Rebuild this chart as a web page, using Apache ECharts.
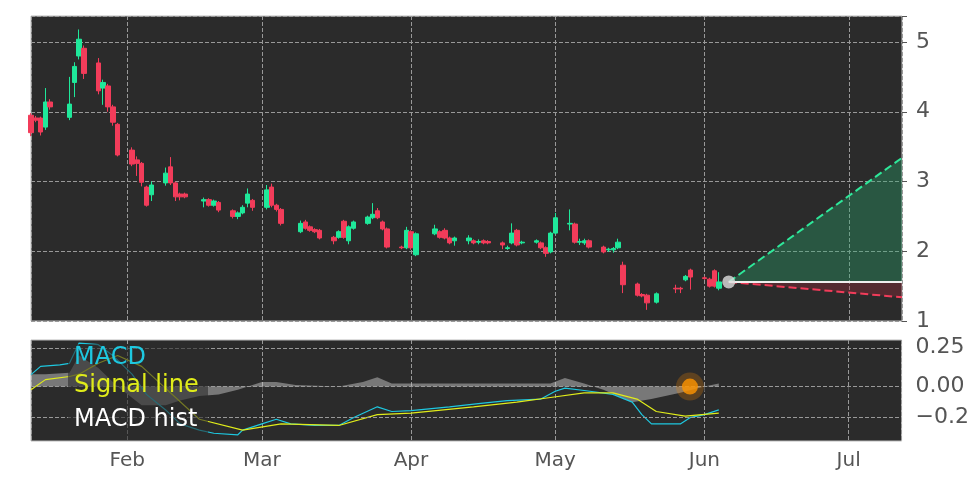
<!DOCTYPE html>
<html>
<head>
<meta charset="utf-8">
<script src="https://cdn.jsdelivr.net/npm/echarts@6/dist/echarts.min.js"></script>
<style>html,body{margin:0;background:#fff}#main{width:972px;height:486px}</style>
</head>
<body>
<div id="main"></div>
<script>
// candles: date, open, close, low, high
var candles = [
  ['2021-01-12',3.95,3.70,3.65,3.98],['2021-01-13',3.91,3.88,3.85,3.94],['2021-01-14',3.91,3.71,3.66,3.93],
  ['2021-01-15',3.78,4.14,3.74,4.34],['2021-01-16',4.14,4.07,4.03,4.18],['2021-01-20',3.92,4.11,3.88,4.50],
  ['2021-01-21',4.42,4.65,4.21,4.71],['2021-01-22',4.80,5.04,4.75,5.18],['2021-01-23',4.91,4.55,4.47,4.95],
  ['2021-01-26',4.70,4.30,4.25,4.77],['2021-01-27',4.34,4.42,4.10,4.46],['2021-01-28',4.37,4.07,4.00,4.40],
  ['2021-01-29',4.07,3.85,3.80,4.10],['2021-01-30',3.82,3.38,3.36,3.84],['2021-02-02',3.45,3.25,3.22,3.49],
  ['2021-02-03',3.31,3.26,3.08,3.36],['2021-02-04',3.26,2.99,2.93,3.28],['2021-02-05',2.92,2.66,2.64,2.94],
  ['2021-02-06',2.81,2.95,2.72,3.00],['2021-02-09',2.98,3.12,2.94,3.20],['2021-02-10',3.21,2.98,2.95,3.35],
  ['2021-02-11',2.98,2.78,2.72,3.00],['2021-02-12',2.82,2.78,2.73,2.84],['2021-02-13',2.82,2.78,2.76,2.84],
  ['2021-02-17',2.72,2.74,2.63,2.77],['2021-02-18',2.74,2.66,2.64,2.76],['2021-02-19',2.66,2.72,2.64,2.74],
  ['2021-02-20',2.70,2.59,2.56,2.72],['2021-02-23',2.58,2.50,2.47,2.60],['2021-02-24',2.50,2.55,2.46,2.57],
  ['2021-02-25',2.55,2.63,2.53,2.66],['2021-02-26',2.69,2.82,2.63,2.90],['2021-02-27',2.73,2.63,2.58,2.75],
  ['2021-03-02',2.63,2.88,2.60,2.95],['2021-03-03',2.92,2.66,2.63,2.97],['2021-03-04',2.66,2.60,2.57,2.68],
  ['2021-03-05',2.60,2.40,2.37,2.62],['2021-03-09',2.28,2.40,2.26,2.44],['2021-03-10',2.42,2.33,2.31,2.45],
  ['2021-03-11',2.35,2.30,2.28,2.37],['2021-03-12',2.31,2.28,2.26,2.33],['2021-03-13',2.30,2.19,2.17,2.32],
  ['2021-03-16',2.20,2.15,2.10,2.22],['2021-03-17',2.20,2.28,2.18,2.30],['2021-03-18',2.43,2.20,2.18,2.45],
  ['2021-03-19',2.15,2.35,2.10,2.37],['2021-03-20',2.33,2.42,2.31,2.44],['2021-03-23',2.40,2.49,2.38,2.51],
  ['2021-03-24',2.48,2.53,2.46,2.69],['2021-03-25',2.58,2.48,2.46,2.62],['2021-03-26',2.42,2.32,2.30,2.44],
  ['2021-03-27',2.32,2.06,2.04,2.34],['2021-03-30',2.06,2.05,2.03,2.08],['2021-03-31',2.05,2.30,2.03,2.35],
  ['2021-04-01',2.28,2.05,2.02,2.30],['2021-04-02',1.95,2.25,1.93,2.27],['2021-04-06',2.25,2.32,2.23,2.38],
  ['2021-04-07',2.28,2.20,2.18,2.30],['2021-04-08',2.30,2.19,2.17,2.33],['2021-04-09',2.19,2.12,2.10,2.21],
  ['2021-04-10',2.15,2.19,2.08,2.21],['2021-04-13',2.15,2.19,2.10,2.23],['2021-04-14',2.15,2.12,2.10,2.17],
  ['2021-04-15',2.13,2.14,2.10,2.17],['2021-04-16',2.15,2.12,2.10,2.17],['2021-04-17',2.14,2.12,2.10,2.16],
  ['2021-04-20',2.12,2.09,2.03,2.14],['2021-04-21',2.04,2.05,2.02,2.08],['2021-04-22',2.12,2.26,2.10,2.40],
  ['2021-04-23',2.30,2.09,2.07,2.32],['2021-04-24',2.12,2.13,2.10,2.15],['2021-04-27',2.13,2.15,2.11,2.17],
  ['2021-04-28',2.12,2.05,2.03,2.14],['2021-04-29',2.05,1.97,1.92,2.07],['2021-04-30',1.99,2.26,1.97,2.28],
  ['2021-05-01',2.26,2.48,2.24,2.55],['2021-05-04',2.39,2.40,2.30,2.60],['2021-05-05',2.39,2.13,2.11,2.41],
  ['2021-05-06',2.13,2.14,2.09,2.18],['2021-05-07',2.12,2.15,2.09,2.18],['2021-05-08',2.15,2.06,2.04,2.17],
  ['2021-05-11',2.06,1.99,1.97,2.08],['2021-05-12',2.02,2.03,1.99,2.05],['2021-05-13',2.02,2.04,1.98,2.06],
  ['2021-05-14',2.05,2.13,2.03,2.18],['2021-05-15',1.80,1.52,1.40,1.85],['2021-05-18',1.53,1.37,1.35,1.55],
  ['2021-05-19',1.38,1.36,1.34,1.40],['2021-05-20',1.37,1.26,1.16,1.39],['2021-05-22',1.27,1.39,1.25,1.41],
  ['2021-05-26',1.47,1.46,1.40,1.52],['2021-05-27',1.47,1.46,1.40,1.49],['2021-05-28',1.59,1.64,1.57,1.66],
  ['2021-05-29',1.73,1.63,1.45,1.75],['2021-06-01',1.62,1.61,1.59,1.64],['2021-06-02',1.60,1.50,1.48,1.62],
  ['2021-06-03',1.72,1.50,1.48,1.74],['2021-06-04',1.47,1.56,1.44,1.70]
];
var lastPoint = ['2021-06-06', 1.56];
var forecastEnd = '2021-07-12';
var forecastHigh = 3.34;
var forecastLow = 1.34;

var macd = [
  ['2021-01-12',0.077],['2021-01-14',0.13],['2021-01-18',0.14],['2021-01-20',0.15],['2021-01-22',0.28],
  ['2021-01-26',0.27],['2021-01-29',0.20],['2021-02-02',0.08],['2021-02-05',-0.05],['2021-02-09',-0.15],
  ['2021-02-12',-0.24],['2021-02-16',-0.28],['2021-02-19',-0.30],['2021-02-24',-0.31],['2021-02-25',-0.28],
  ['2021-03-01',-0.24],['2021-03-04',-0.21],['2021-03-07',-0.24],['2021-03-12',-0.25],['2021-03-17',-0.25],
  ['2021-03-20',-0.20],['2021-03-25',-0.13],['2021-03-28',-0.16],['2021-04-01',-0.155],['2021-04-09',-0.13],
  ['2021-04-15',-0.11],['2021-04-21',-0.09],['2021-04-28',-0.08],['2021-05-01',-0.03],['2021-05-03',-0.01],
  ['2021-05-07',-0.025],['2021-05-13',-0.05],['2021-05-17',-0.10],['2021-05-19',-0.18],['2021-05-21',-0.24],
  ['2021-05-27',-0.24],['2021-05-29',-0.20],['2021-06-01',-0.18],['2021-06-04',-0.15]
];
var signal = [
  ['2021-01-12',-0.02],['2021-01-15',0.045],['2021-01-20',0.065],['2021-01-22',0.08],['2021-01-26',0.15],
  ['2021-01-30',0.20],['2021-02-04',0.13],['2021-02-16',-0.21],['2021-02-25',-0.28],['2021-03-05',-0.24],
  ['2021-03-17',-0.25],['2021-03-25',-0.18],['2021-04-01',-0.17],['2021-04-14',-0.13],['2021-04-23',-0.10],
  ['2021-04-30',-0.07],['2021-05-07',-0.04],['2021-05-13',-0.04],['2021-05-18',-0.08],['2021-05-22',-0.16],
  ['2021-05-28',-0.19],['2021-06-04',-0.17]
];
var hist = [
  ['2021-01-12',0.08],['2021-01-15',0.08],['2021-01-20',0.09],['2021-01-22',0.20],['2021-01-26',0.12],
  ['2021-01-30',0.0],['2021-02-04',-0.12],['2021-02-09',-0.12],['2021-02-12',-0.09],['2021-02-16',-0.06],
  ['2021-02-20',-0.05],['2021-02-24',-0.02],['2021-03-01',0.03],['2021-03-04',0.03],['2021-03-08',0.01],
  ['2021-03-17',0.0],['2021-03-22',0.03],['2021-03-25',0.06],['2021-03-28',0.02],['2021-04-01',0.02],
  ['2021-04-15',0.02],['2021-04-30',0.02],['2021-05-03',0.055],['2021-05-07',0.02],['2021-05-11',-0.02],
  ['2021-05-17',-0.10],['2021-05-21',-0.08],['2021-05-27',-0.04],['2021-06-01',0.0],['2021-06-04',0.02]
];
var crossPoint = ['2021-05-29', 0.0];
var macdTicks = [0.25, 0, -0.2];
var macdTickLabels = ['0.25', '0.00', '\u22120.2'];

var chart = echarts.init(document.getElementById('main'));
var axisText = { color: '#555', fontSize: 22, fontFamily: 'DejaVu Sans' };
var dash = { color: '#999', type: 'dashed', width: 1 };
var monthLabel = function (v) {
  var d = new Date(v);
  return d.getDate() === 1 ? ['Jan','Feb','Mar','Apr','May','Jun','Jul'][d.getMonth()] : '';
};

chart.setOption({
  animation: false,
  backgroundColor: '#fff',
  grid: [
    { left: 31, right: 70, top: 16, height: 305, show: true, backgroundColor: '#2b2b2b', borderColor: '#bbb' },
    { left: 31, right: 70, top: 340, height: 101, show: true, backgroundColor: '#2b2b2b', borderColor: '#bbb' }
  ],
  xAxis: [
    { type: 'time', gridIndex: 0, min: '2021-01-12', max: forecastEnd,
      axisLabel: { show: false }, axisTick: { show: false }, axisLine: { show: false },
      splitLine: { show: true, lineStyle: dash } },
    { type: 'time', gridIndex: 1, min: '2021-01-12', max: forecastEnd,
      axisLabel: Object.assign({ formatter: monthLabel, margin: 10, hideOverlap: false }, axisText, { fontSize: 20 }),
      axisTick: { show: true, lineStyle: { color: '#555' } }, axisLine: { show: false },
      splitLine: { show: true, lineStyle: dash } }
  ],
  yAxis: [
    { type: 'value', gridIndex: 0, position: 'right', min: 1, max: 5.373, interval: 1,
      axisLabel: Object.assign({ margin: 14, formatter: function (v) { return Math.abs(v - Math.round(v)) < 1e-6 ? String(v) : ''; } }, axisText),
      axisTick: { show: true, lineStyle: { color: '#555' } }, axisLine: { show: false },
      splitLine: { show: true, lineStyle: dash } },
    { type: 'value', gridIndex: 1, position: 'right', min: -0.35, max: 0.30, interval: 0.05,
      axisLabel: Object.assign({ margin: 14, formatter: function (v) {
        for (var i = 0; i < macdTicks.length; i++) if (Math.abs(v - macdTicks[i]) < 1e-6) return macdTickLabels[i];
        return ''; } }, axisText),
      axisTick: { show: false }, axisLine: { show: false }, splitLine: { show: false } }
  ],
  graphic: [
    { type: 'rect', left: 68, top: 344, z: 100, shape: { width: 140, height: 96 },
      style: { fill: 'rgba(43,43,43,0.6)' } },
    { type: 'text', left: 74, top: 346, z: 101, style: { text: 'MACD', fill: '#1ec8e0', fontSize: 24, fontFamily: 'DejaVu Sans' } },
    { type: 'text', left: 74, top: 374, z: 101, style: { text: 'Signal line', fill: '#e0ec1a', fontSize: 24, fontFamily: 'DejaVu Sans' } },
    { type: 'text', left: 74, top: 408, z: 101, style: { text: 'MACD hist', fill: '#fff', fontSize: 24, fontFamily: 'DejaVu Sans' } }
  ],
  series: [
    { type: 'candlestick', xAxisIndex: 0, yAxisIndex: 0, barWidth: 5,
      data: candles.map(function (c) { return [c[0], c[1], c[2], c[3], c[4]]; }),
      itemStyle: { color: '#1fe89a', color0: '#f23c5a', borderColor: '#1fe89a', borderColor0: '#f23c5a' } },
    { type: 'line', xAxisIndex: 0, yAxisIndex: 0, symbol: 'none',
      data: [lastPoint, [forecastEnd, forecastHigh]],
      lineStyle: { color: '#2ee89a', type: 'dashed', width: 2 },
      areaStyle: { origin: lastPoint[1], color: 'rgba(40,170,110,0.5)' } },
    { type: 'line', xAxisIndex: 0, yAxisIndex: 0, symbol: 'none',
      data: [lastPoint, [forecastEnd, forecastLow]],
      lineStyle: { color: '#f23c5a', type: 'dashed', width: 2 },
      areaStyle: { origin: lastPoint[1], color: 'rgba(170,40,60,0.45)' } },
    { type: 'line', xAxisIndex: 0, yAxisIndex: 0, symbol: 'none',
      data: [lastPoint, [forecastEnd, lastPoint[1]]], lineStyle: { color: '#eee', width: 2 } },
    { type: 'scatter', xAxisIndex: 0, yAxisIndex: 0, symbolSize: 13, data: [lastPoint],
      itemStyle: { color: '#ddd' }, z: 5 },
    { type: 'line', xAxisIndex: 1, yAxisIndex: 1, symbol: 'none', data: hist,
      lineStyle: { width: 0 }, areaStyle: { origin: 0, color: 'rgba(200,200,200,0.7)' },
      markLine: { silent: true, symbol: 'none', label: { show: false },
        lineStyle: { color: '#999', type: 'dashed', width: 1 },
        data: macdTicks.map(function (t) { return { yAxis: t }; }) } },
    { type: 'line', xAxisIndex: 1, yAxisIndex: 1, symbol: 'none', data: macd,
      lineStyle: { color: '#1ec8e0', width: 1.2 } },
    { type: 'line', xAxisIndex: 1, yAxisIndex: 1, symbol: 'none', data: signal,
      lineStyle: { color: '#e0ec1a', width: 1.2 } },
    { type: 'scatter', xAxisIndex: 1, yAxisIndex: 1, symbolSize: 28, data: [crossPoint],
      itemStyle: { color: 'rgba(255,140,0,0.3)' }, z: 5 },
    { type: 'scatter', xAxisIndex: 1, yAxisIndex: 1, symbolSize: 16, data: [crossPoint],
      itemStyle: { color: '#ff9500' }, z: 6 }
  ]
});
</script>
</body>
</html>
